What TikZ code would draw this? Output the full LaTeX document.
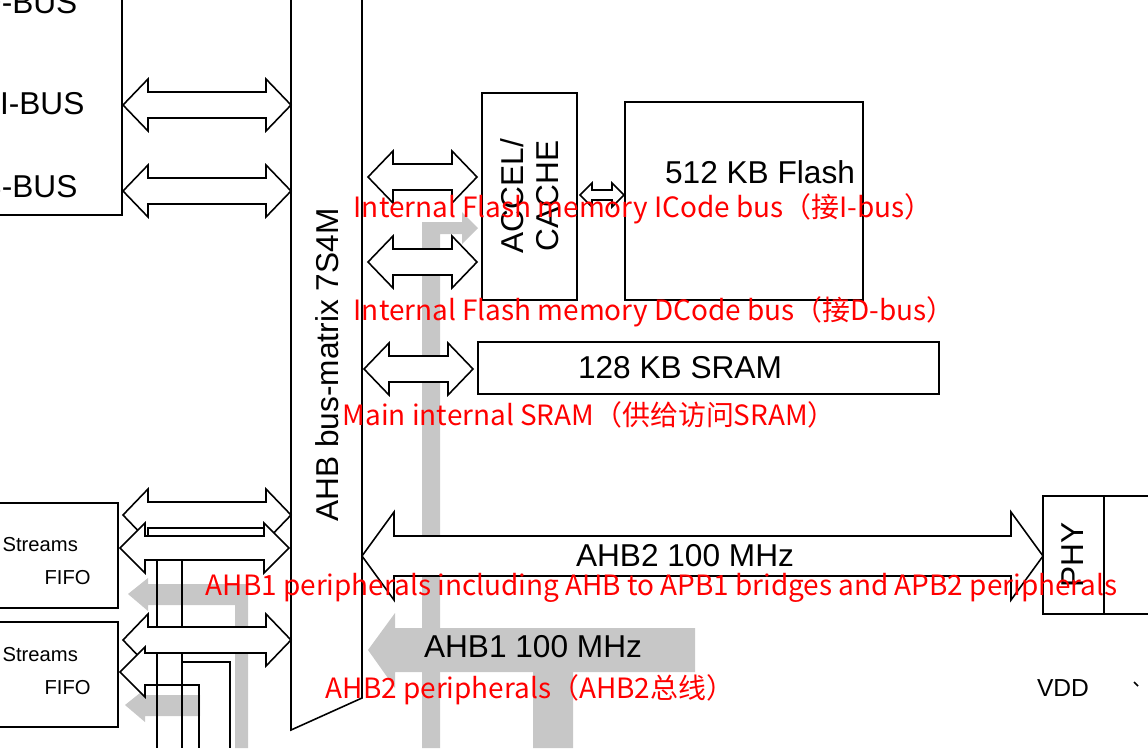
\documentclass[tikz,border=0pt]{standalone}
\usepackage{fontspec}
\setmainfont{Liberation Sans}
\newfontfamily\cjk{Noto Sans CJK SC}
\begin{document}
\begin{tikzpicture}[x=0.02cm,y=-0.02cm,line width=0.9pt,
  box/.style={draw,fill=white},
  lbl/.style={font=\fontsize{18}{20}\selectfont},
  small/.style={font=\fontsize{11.5}{13}\selectfont},
  note/.style={text=red,font=\cjk\fontsize{15.9}{18}\selectfont,anchor=west,inner sep=0pt},
  gbus/.style={fill=black!22,draw=none}]
% double outline arrow: x1, x2, y, shaft half, head half, head length
\newcommand\dblarr[6]{%
  \draw[fill=white] (#1,#3) -- (#1+#6,#3-#5) -- (#1+#6,#3-#4) -- (#2-#6,#3-#4) -- (#2-#6,#3-#5)
    -- (#2,#3) -- (#2-#6,#3+#5) -- (#2-#6,#3+#4) -- (#1+#6,#3+#4) -- (#1+#6,#3+#5) -- cycle;}
\useasboundingbox (0,0) rectangle (1148,748);
\clip (0,0) rectangle (1148,748);
% grey buses
\fill[gbus] (422,748) -- (422,222) -- (462,222) -- (462,212) -- (478,228) -- (462,244) -- (462,234) -- (440,234) -- (440,748) -- cycle;
\fill[gbus] (368,650) -- (395,613) -- (395,628) -- (695,628) -- (695,672) -- (573,672) -- (573,748) -- (533,748) -- (533,672) -- (395,672) -- (395,688) -- cycle;
\fill[gbus] (128,594) -- (148,578) -- (148,584) -- (248,584) -- (248,748) -- (235,748) -- (235,605) -- (148,605) -- (148,611) -- cycle;
\fill[gbus] (125,705) -- (145,689) -- (145,695) -- (200,695) -- (200,716) -- (145,716) -- (145,722) -- cycle;
% CPU box
\draw (122,-5) -- (122,215) -- (-5,215);
\node[lbl,anchor=east] (dbus) at (84,3) {D-BUS};
\node[lbl,anchor=east] (ibus) at (91,104) {I-BUS};
\node[lbl,anchor=east] (sbus) at (84,187) {S-BUS};
% bus matrix
\draw (291,-5) -- (291,730) -- (362,698) -- (362,-5);
\node[lbl,rotate=90] (mat) at (327,365) {AHB bus-matrix 7S4M};
% DMA streams
\draw[box] (-5,503) rectangle (118,608);
\draw[box] (-5,622) rectangle (118,727);
\node[small,anchor=west] (st1) at (-4,545) {Streams};
\node[small,anchor=west] (ff1) at (38,578) {FIFO};
\node[small,anchor=west] (st2) at (-4,655) {Streams};
\node[small,anchor=west] (ff2) at (38,688) {FIFO};
\draw (157,560) -- (157,748) (182,560) -- (182,748) (182,560) -- (268,560);
\draw (182,662) -- (230,662) -- (230,748) (157,685) -- (199,685) -- (199,748);
% master arrows
\dblarr{123}{291}{105}{13}{26}{25}
\dblarr{123}{291}{191}{13}{26}{25}
\dblarr{123}{291}{515}{13}{26}{25}
\dblarr{120}{289}{548}{12}{25}{25}
\dblarr{123}{291}{640}{13}{26}{25}
\draw[fill=white] (120,672) -- (145,647) -- (145,653) -- (157,653) -- (157,685) -- (145,685) -- (145,697) -- cycle;
% slaves
\draw[box] (482,93) rectangle (577,300);
\node[lbl,rotate=90,align=center] (acc) at (529.5,196) {ACCEL/\\CACHE};
\draw[box] (625,102) rectangle (863,300);
\node[lbl] (flash) at (760,172) {512 KB Flash};
\draw[box] (478,342) rectangle (939,394);
\node[lbl] (sram) at (680,368) {128 KB SRAM};
\dblarr{368}{477}{177}{13}{26}{25}
\dblarr{368}{477}{262}{13}{26}{25}
\dblarr{364}{473}{369}{13}{26}{25}
\dblarr{580}{624}{195}{5}{12}{12}
% AHB2 / AHB1
\dblarr{362}{1043}{556}{20}{44}{32}
\node[lbl] (ahb2) at (685,556) {AHB2 100 MHz};
\node[lbl] (ahb1) at (533,647) {AHB1 100 MHz};
\draw[box] (1043,496) rectangle (1160,614);
\draw (1104,496) -- (1104,614);
\node[lbl,rotate=90] (phy) at (1073,555) {PHY};
\node[font=\fontsize{14}{16}\selectfont] (vdd) at (1063,688) {VDD};
\draw (1134,682) -- (1138,686);
% red notes
\node[note] at (353,209) {Internal Flash memory ICode bus（接I-bus）};
\node[note] at (353,312) {Internal Flash memory DCode bus（接D-bus）};
\node[note] at (342,415) {Main internal SRAM（供给访问SRAM）};
\node[note] at (205,588) {AHB1 peripherals including AHB to APB1 bridges and APB2 peripherals};
\node[note] at (325,690) {AHB2 peripherals（AHB2总线）};
\end{tikzpicture}
\end{document}
